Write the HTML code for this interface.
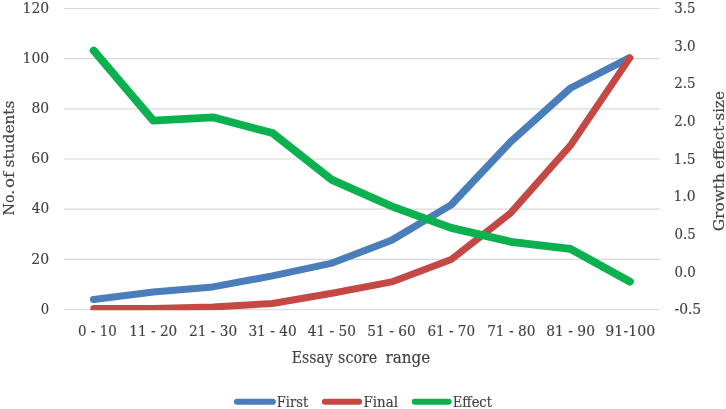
<!DOCTYPE html>
<html><head><meta charset="utf-8"><title>Chart</title>
<style>
html,body{margin:0;padding:0;background:#fff;}
svg{display:block}
text{font-family:"DejaVu Serif", "Liberation Serif", serif;font-size:14.2px;fill:#404040;stroke:#404040;stroke-width:0.15px;white-space:pre;}
</style></head><body>
<svg width="726" height="409" viewBox="0 0 726 409">
<rect width="726" height="409" fill="#ffffff"/>
<g stroke="#d8d8d8" stroke-width="1.15" fill="none">
<line x1="64.0" y1="309.50" x2="659.6" y2="309.50"/>
<line x1="64.0" y1="259.33" x2="659.6" y2="259.33"/>
<line x1="64.0" y1="209.16" x2="659.6" y2="209.16"/>
<line x1="64.0" y1="158.99" x2="659.6" y2="158.99"/>
<line x1="64.0" y1="108.82" x2="659.6" y2="108.82"/>
<line x1="64.0" y1="58.65" x2="659.6" y2="58.65"/>
<line x1="64.0" y1="8.48" x2="659.6" y2="8.48"/>
</g>
<defs><clipPath id="pa"><rect x="0" y="0" width="726" height="310.2"/></clipPath></defs>
<g clip-path="url(#pa)" fill="none" stroke-linecap="round" stroke-linejoin="round">
<polyline transform="scale(1.1,1)" stroke="#4a7ebb" stroke-width="7.0" points="85.25,299.47 139.40,291.94 193.55,286.92 247.69,275.89 301.84,263.09 355.98,240.27 410.13,204.90 464.27,141.68 518.42,88.25 572.11,57.90"/>
<polyline transform="scale(1.0,1)" stroke="#c44843" stroke-width="7.0" points="93.78,308.62 153.34,308.62 212.90,306.99 272.46,303.48 332.02,293.19 391.58,281.91 451.14,259.58 510.70,212.92 570.26,145.69 629.82,57.90"/>
<polyline transform="scale(1.05,1)" stroke="#0bb04f" stroke-width="7.8" points="89.31,50.60 146.04,120.70 202.76,117.30 259.49,133.10 316.21,179.90 372.93,206.30 429.66,227.90 486.38,241.80 543.10,248.80 599.83,281.60"/>
</g>
<g>
<text x="40.74" y="313.80" textLength="8.41" lengthAdjust="spacingAndGlyphs" xml:space="preserve">0</text>
<text x="31.36" y="263.63" textLength="17.83" lengthAdjust="spacingAndGlyphs" xml:space="preserve">20</text>
<text x="31.79" y="213.46" textLength="17.39" lengthAdjust="spacingAndGlyphs" xml:space="preserve">40</text>
<text x="31.36" y="163.29" textLength="17.83" lengthAdjust="spacingAndGlyphs" xml:space="preserve">60</text>
<text x="31.51" y="113.12" textLength="17.68" lengthAdjust="spacingAndGlyphs" xml:space="preserve">80</text>
<text x="22.58" y="62.95" textLength="26.62" lengthAdjust="spacingAndGlyphs" xml:space="preserve">100</text>
<text x="22.58" y="12.78" textLength="26.62" lengthAdjust="spacingAndGlyphs" xml:space="preserve">120</text>
<text x="674.44" y="314.25" textLength="26.77" lengthAdjust="spacingAndGlyphs" xml:space="preserve">-0.5</text>
<text x="674.44" y="276.62" textLength="21.23" lengthAdjust="spacingAndGlyphs" xml:space="preserve">0.0</text>
<text x="674.44" y="239.00" textLength="21.23" lengthAdjust="spacingAndGlyphs" xml:space="preserve">0.5</text>
<text x="673.58" y="201.37" textLength="22.11" lengthAdjust="spacingAndGlyphs" xml:space="preserve">1.0</text>
<text x="673.58" y="163.74" textLength="22.11" lengthAdjust="spacingAndGlyphs" xml:space="preserve">1.5</text>
<text x="674.30" y="126.11" textLength="21.37" lengthAdjust="spacingAndGlyphs" xml:space="preserve">2.0</text>
<text x="674.30" y="88.49" textLength="21.37" lengthAdjust="spacingAndGlyphs" xml:space="preserve">2.5</text>
<text x="674.30" y="50.86" textLength="21.37" lengthAdjust="spacingAndGlyphs" xml:space="preserve">3.0</text>
<text x="674.30" y="13.23" textLength="21.37" lengthAdjust="spacingAndGlyphs" xml:space="preserve">3.5</text>
<text x="78.05" y="335.60" textLength="38.65" lengthAdjust="spacingAndGlyphs" xml:space="preserve">0 - 10</text>
<text x="129.22" y="335.60" textLength="48.03" lengthAdjust="spacingAndGlyphs" xml:space="preserve">11 - 20</text>
<text x="189.00" y="335.60" textLength="48.21" lengthAdjust="spacingAndGlyphs" xml:space="preserve">21 - 30</text>
<text x="248.40" y="335.60" textLength="48.21" lengthAdjust="spacingAndGlyphs" xml:space="preserve">31 - 40</text>
<text x="307.80" y="335.60" textLength="48.11" lengthAdjust="spacingAndGlyphs" xml:space="preserve">41 - 50</text>
<text x="367.26" y="335.60" textLength="48.45" lengthAdjust="spacingAndGlyphs" xml:space="preserve">51 - 60</text>
<text x="427.41" y="335.60" textLength="47.70" lengthAdjust="spacingAndGlyphs" xml:space="preserve">61 - 70</text>
<text x="487.13" y="335.60" textLength="48.28" lengthAdjust="spacingAndGlyphs" xml:space="preserve">71 - 80</text>
<text x="546.33" y="335.60" textLength="48.59" lengthAdjust="spacingAndGlyphs" xml:space="preserve">81 - 90</text>
<text x="605.35" y="335.60" textLength="49.89" lengthAdjust="spacingAndGlyphs" xml:space="preserve">91-100</text>
<text x="276.66" y="407.00" textLength="31.54" lengthAdjust="spacingAndGlyphs" xml:space="preserve" style="font-size:14.6px">First</text>
<text x="363.48" y="407.00" textLength="34.54" lengthAdjust="spacingAndGlyphs" xml:space="preserve" style="font-size:14.6px">Final</text>
<text x="452.80" y="407.00" textLength="39.15" lengthAdjust="spacingAndGlyphs" xml:space="preserve" style="font-size:14.6px">Effect</text>
<text y="362.70" xml:space="preserve" style="font-size:16.0px"><tspan x="291.85" textLength="41.04" lengthAdjust="spacingAndGlyphs">Essay</tspan> <tspan x="338.07" textLength="39.23" lengthAdjust="spacingAndGlyphs">score</tspan>  <tspan x="385.43" textLength="44.74" lengthAdjust="spacingAndGlyphs">range</tspan></text>
<text transform="translate(14.20,0) rotate(-90)" y="0" xml:space="preserve" style="font-size:15.5px"><tspan x="-215.44" textLength="25.38" lengthAdjust="spacingAndGlyphs">No.</tspan> <tspan x="-187.95" textLength="15.99" lengthAdjust="spacingAndGlyphs">of</tspan> <tspan x="-167.40" textLength="66.83" lengthAdjust="spacingAndGlyphs">students</tspan></text>
<text transform="translate(723.80,0) rotate(-90)" y="0" xml:space="preserve" style="font-size:15.5px"><tspan x="-230.94" textLength="57.75" lengthAdjust="spacingAndGlyphs">Growth</tspan> <tspan x="-168.94" textLength="78.02" lengthAdjust="spacingAndGlyphs">effect-size</tspan></text>
</g>
<g fill="none" stroke-width="6" stroke-linecap="round">
<line x1="236.9" y1="401.8" x2="272.9" y2="401.8" stroke="#4a7ebb"/>
<line x1="324.9" y1="401.8" x2="359.1" y2="401.8" stroke="#c44843"/>
<line x1="414.7" y1="401.8" x2="448.6" y2="401.8" stroke="#0bb04f"/>
</g>
</svg></body></html>
